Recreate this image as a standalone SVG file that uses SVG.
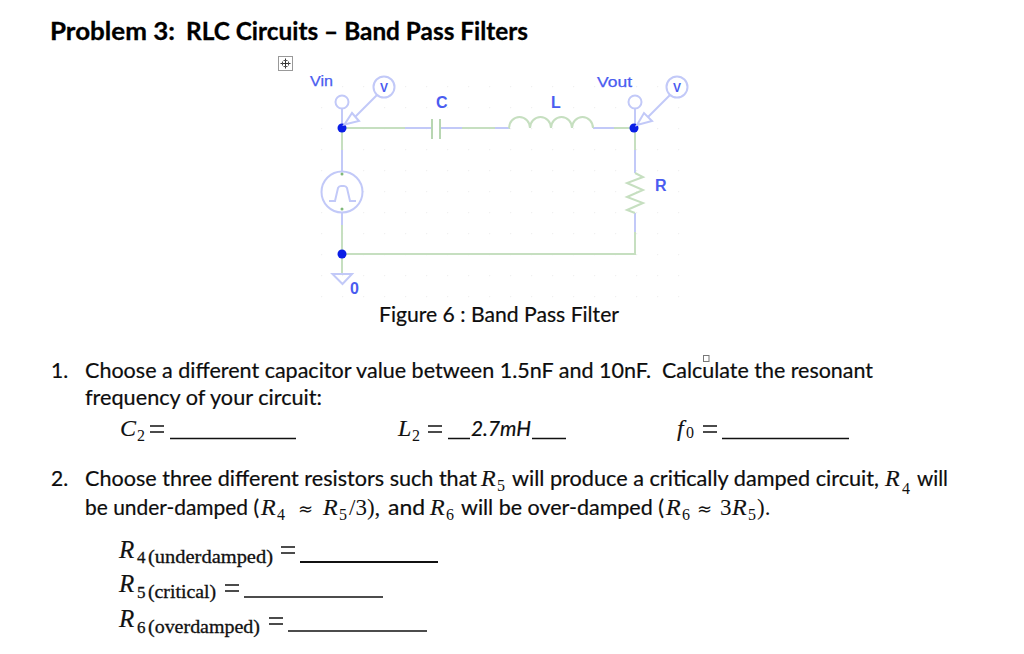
<svg xmlns="http://www.w3.org/2000/svg" width="1024" height="654" viewBox="0 0 1024 654">
<style>
.t{font-family:"Lato","Open Sans","Liberation Sans",sans-serif;font-size:21px;fill:#0d0d0d;stroke:#0d0d0d;stroke-width:.2}
.h{font-weight:700;font-size:25px;fill:#000;stroke:#000;stroke-width:.3}
.m{font-family:"Liberation Serif","DejaVu Serif",serif;font-style:italic;font-size:24px;fill:#111;stroke:#111;stroke-width:.15}
.s{font-family:"Liberation Serif","DejaVu Serif",serif;font-style:normal;font-size:16px;fill:#111}
.n{font-family:"Liberation Serif","DejaVu Serif",serif;font-size:23px;fill:#111}
.a{font-family:"DejaVu Sans",sans-serif;font-size:18px;fill:#111}
.p{font-family:"Liberation Serif","DejaVu Serif",serif;font-size:18px;fill:#111;stroke:#111;stroke-width:.3}
.sb{font-family:"Liberation Serif","DejaVu Serif",serif;font-size:17px;fill:#111;stroke:#111;stroke-width:.3}
.c{font-family:"Liberation Sans",sans-serif;font-size:15px;fill:#4a5cf0;stroke:#4a5cf0;stroke-width:.25}
.b{font-weight:700;font-size:16px;stroke-width:0}
.v{font-size:12px;font-weight:700;text-anchor:middle;stroke-width:0}
.g{fill:none;stroke:#c6dfc0;stroke-width:2}
.u{fill:none;stroke:#c2c9f8;stroke-width:2}
.o{fill:#fff;stroke:#c2c9f8;stroke-width:2}
.d{fill:#0a1ee6}
.l{stroke:#111;stroke-width:1.6;fill:none}
</style>
<defs>
<pattern id="grid" x="321" y="86" width="21" height="21" patternUnits="userSpaceOnUse"><rect width="1.2" height="1.2" fill="#f0f0f0"/></pattern>
<path id="eq" d="M0 0H14M0 6H14" stroke="#111" stroke-width="1.4" fill="none"/>
</defs>
<rect width="1024" height="654" fill="#fff"/>
<rect x="320" y="85" width="362" height="220" fill="url(#grid)"/>

<text class="t h" x="50" y="40" textLength="125" lengthAdjust="spacingAndGlyphs">Problem 3:</text>
<text class="t h" x="186" y="40" textLength="342" lengthAdjust="spacingAndGlyphs">RLC Circuits – Band Pass Filters</text>

<g id="handle">
<rect x="278.500" y="56.500" width="14" height="14" fill="#fff" stroke="#999" stroke-width="1"/>
<path d="M285.500 58.500V68.500M280.500 63.500H290.500" stroke="#333" stroke-width="1" fill="none"/>
<path d="M283.500 60.500H287.500M283.500 66.500H287.500M282.500 61.500V65.500M288.500 61.500V65.500" stroke="#555" stroke-width="1" fill="none"/>
</g>

<g id="connectors">
<path class="g" d="M342 128H405M342 128V150M462 128H510M593 128H635V150M342 225V254H635V232M342 254V274"/>
<path class="u" d="M405 128H431M441 128H462M342 150V171M342 212V225M495 128H509M593 128H614M635 150V173M342 108V128M635 108V128M635 213V232"/>
</g>

<g id="C">
<path d="M432 119V139M440 119V139" stroke="#b8d6b2" stroke-width="2" fill="none"/>
<text class="c b" x="436" y="108">C</text>
</g>
<g id="L">
<path class="g" d="M509 128a10.500 11 0 0 1 21 0a10.500 11 0 0 1 21 0a10.500 11 0 0 1 21 0a10.500 11 0 0 1 21 0"/>
<text class="c b" x="551" y="108">L</text>
</g>
<g id="R">
<path class="g" d="M635 173L643 177L627 183L643 190L627 197L643 203L627 210L635 213"/>
<text class="c b" x="655" y="191">R</text>
</g>
<g id="source">
<circle class="o" cx="342" cy="192" r="20.500"/>
<path class="u" d="M329 201H335L338 188Q339 186 341 186H344Q346 186 347 188L350 201H356"/>
<circle cx="342" cy="174" r="1.500" fill="#7fb878"/>
<circle cx="342" cy="209" r="1.500" fill="#7fb878"/>
</g>
<g id="vin">
<circle class="o" cx="342" cy="102" r="6.500"/>
<circle class="d" cx="342" cy="128" r="4.500"/>
<text class="c" x="310" y="86" textLength="23" lengthAdjust="spacingAndGlyphs">Vin</text>
</g>
<g id="probe-in">
<path class="u" d="M355 117L377 95"/>
<path class="o" d="M344.500 124.500L359 121L352 113Z"/>
<circle class="o" cx="384" cy="87" r="10.500"/>
<text class="c v" x="384" y="92">V</text>
</g>
<g id="vout">
<circle class="o" cx="635" cy="102" r="6.500"/>
<circle class="d" cx="634" cy="128" r="4.500"/>
<text class="c" x="597" y="87" textLength="35" lengthAdjust="spacingAndGlyphs">Vout</text>
</g>
<g id="probe-out">
<path class="u" d="M648 117L670 95"/>
<path class="o" d="M637 125L652 121L644 113Z"/>
<circle class="o" cx="677" cy="87" r="10.500"/>
<text class="c v" x="677" y="92">V</text>
</g>
<g id="ground">
<circle class="d" cx="342" cy="254" r="4.500"/>
<path class="u" d="M332.500 274H352L342.500 284Z"/>
<text class="c b" x="350" y="294">0</text>
</g>

<text class="t" x="379" y="322" textLength="240" lengthAdjust="spacingAndGlyphs">Figure 6 : Band Pass Filter</text>

<rect x="703.500" y="355.500" width="5.500" height="6" fill="#fff" stroke="#777" stroke-width="1"/>

<text class="t" x="51" y="378">1.</text>
<text class="t" x="85" y="378" textLength="566" lengthAdjust="spacingAndGlyphs">Choose a different capacitor value between 1.5nF and 10nF.</text>
<text class="t" x="662" y="378" textLength="211" lengthAdjust="spacingAndGlyphs">Calculate the resonant</text>
<text class="t" x="85" y="405" textLength="237" lengthAdjust="spacingAndGlyphs">frequency of your circuit:</text>

<text class="m" x="120" y="436">C</text><text class="s" x="137" y="441">2</text>
<use href="#eq" x="150" y="426"/>
<path class="l" d="M170 438.500H296"/>
<text class="m" x="398" y="436">L</text><text class="s" x="412" y="441">2</text>
<use href="#eq" x="428" y="426"/>
<path class="l" d="M448 438.500H470M532 438.500H566"/>
<text class="t" x="471" y="436" textLength="60" lengthAdjust="spacingAndGlyphs" style="font-style:italic">2.7mH</text>
<text class="m" x="677" y="436">f</text><text class="s" x="686" y="438">0</text>
<use href="#eq" x="703" y="426"/>
<path class="l" d="M722 438.500H849"/>

<text class="t" x="51" y="486">2.</text>
<text class="t" x="85" y="486" textLength="392" lengthAdjust="spacingAndGlyphs">Choose three different resistors such that</text>
<text class="m" x="481" y="486">R</text><text class="s" x="497" y="491">5</text>
<text class="t" x="512" y="486" textLength="367" lengthAdjust="spacingAndGlyphs">will produce a critically damped circuit,</text>
<text class="m" x="885" y="486">R</text><text class="s" x="902" y="494">4</text>
<text class="t" x="917" y="486" textLength="31" lengthAdjust="spacingAndGlyphs">will</text>

<text class="t" x="85" y="515" textLength="174" lengthAdjust="spacingAndGlyphs">be under-damped (</text>
<text class="m" x="261" y="515">R</text><text class="s" x="277" y="520">4</text>
<text class="a" x="298" y="515">≈</text>
<text class="m" x="323" y="515">R</text><text class="s" x="339" y="520">5</text>
<text class="n" x="349" y="515">/3),</text>
<text class="t" x="388" y="515" textLength="37" lengthAdjust="spacingAndGlyphs">and</text>
<text class="m" x="430" y="515">R</text><text class="s" x="446" y="520">6</text>
<text class="t" x="461" y="515" textLength="203" lengthAdjust="spacingAndGlyphs">will be over-damped (</text>
<text class="m" x="666" y="515">R</text><text class="s" x="682" y="520">6</text>
<text class="a" x="697" y="515">≈</text>
<text class="n" x="720" y="515">3</text>
<text class="m" x="732" y="515">R</text><text class="s" x="748" y="520">5</text>
<text class="n" x="757" y="515">).</text>

<text class="m" x="119" y="558" style="font-size:25px">R</text>
<text class="sb" x="137" y="563">4</text>
<text class="p" x="148" y="563" textLength="125" lengthAdjust="spacingAndGlyphs">(underdamped)</text>
<use href="#eq" x="281" y="547"/>
<path class="l" d="M300 562H438" style="stroke-width:2"/>

<text class="m" x="119" y="592" style="font-size:25px">R</text>
<text class="sb" x="137" y="598">5</text>
<text class="p" x="148" y="598" textLength="68" lengthAdjust="spacingAndGlyphs">(critical)</text>
<use href="#eq" x="225" y="585"/>
<path class="l" d="M244 597H383"/>

<text class="m" x="119" y="627" style="font-size:25px">R</text>
<text class="sb" x="137" y="633">6</text>
<text class="p" x="148" y="633" textLength="112" lengthAdjust="spacingAndGlyphs">(overdamped)</text>
<use href="#eq" x="269" y="618"/>
<path class="l" d="M288 631H427"/>
</svg>
